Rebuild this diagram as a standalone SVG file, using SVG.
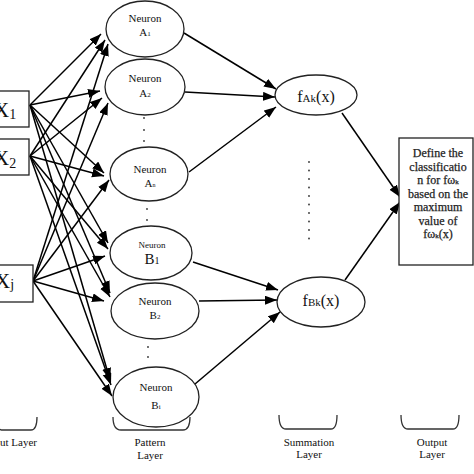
<svg xmlns="http://www.w3.org/2000/svg" width="474" height="474" viewBox="0 0 474 474">
<defs>
<marker id="ah" markerUnits="userSpaceOnUse" markerWidth="13" markerHeight="10" refX="12" refY="4.5" orient="auto">
<path d="M0,0 L12,4.5 L0,9 Z" fill="#000"/>
</marker>
</defs>
<style>
text{font-family:"Liberation Serif","Times New Roman",serif;fill:#111}
.node ellipse,.node rect{fill:#fff;stroke:#222;stroke-width:1.3}
.edge{stroke:#000;stroke-width:1.5;fill:none;marker-end:url(#ah)}
.dot{fill:#333}
.br{fill:none;stroke:#333;stroke-width:1.3}
.nl{font-size:11px;text-anchor:middle}
.lab{font-size:11px;text-anchor:middle}
.out{font-size:12px;text-anchor:middle;fill:#222;stroke:#222;stroke-width:0.25}
</style>
<rect x="0" y="0" width="474" height="474" fill="#fff"/>
<g id="connectors">
<line class="edge" x1="30" y1="105" x2="101" y2="34"/>
<line class="edge" x1="30" y1="105" x2="100" y2="91"/>
<line class="edge" x1="30" y1="105" x2="104" y2="173"/>
<line class="edge" x1="30" y1="105" x2="108" y2="243"/>
<line class="edge" x1="30" y1="105" x2="110" y2="293"/>
<line class="edge" x1="30" y1="105" x2="110" y2="380"/>
<line class="edge" x1="30" y1="156" x2="105" y2="40"/>
<line class="edge" x1="30" y1="156" x2="102" y2="98"/>
<line class="edge" x1="30" y1="156" x2="104" y2="176"/>
<line class="edge" x1="30" y1="156" x2="108" y2="249"/>
<line class="edge" x1="30" y1="156" x2="110" y2="297"/>
<line class="edge" x1="30" y1="156" x2="111" y2="385"/>
<line class="edge" x1="33" y1="281" x2="108" y2="44"/>
<line class="edge" x1="33" y1="281" x2="108" y2="103"/>
<line class="edge" x1="33" y1="281" x2="109" y2="180"/>
<line class="edge" x1="33" y1="281" x2="105" y2="256"/>
<line class="edge" x1="33" y1="281" x2="104" y2="301"/>
<line class="edge" x1="33" y1="281" x2="112" y2="396"/>
<line class="edge" x1="184" y1="33" x2="276" y2="89"/>
<line class="edge" x1="185" y1="92" x2="275" y2="97"/>
<line class="edge" x1="189" y1="172" x2="276" y2="107"/>
<line class="edge" x1="193" y1="262" x2="278" y2="290"/>
<line class="edge" x1="199" y1="301" x2="277" y2="300"/>
<line class="edge" x1="195" y1="384" x2="280" y2="312"/>
<line class="edge" x1="342" y1="113" x2="400" y2="197"/>
<line class="edge" x1="345" y1="280" x2="400" y2="202"/>
</g>
<g id="x1" class="node">
<rect x="-6" y="91" width="35" height="36"/>
<text x="-6" y="117" font-size="21">X<tspan font-size="14" dy="2">1</tspan></text>
</g>
<g id="x2" class="node">
<rect x="-6" y="139" width="35" height="36"/>
<text x="-6" y="165" font-size="21">X<tspan font-size="14" dy="3">2</tspan></text>
</g>
<g id="xj" class="node">
<rect x="-6" y="265" width="39" height="37"/>
<text x="-5" y="288" font-size="21">X<tspan font-size="14" dy="1">j</tspan></text>
</g>
<g id="a1" class="node">
<ellipse cx="145" cy="29" rx="39" ry="28"/>
<text class="nl" x="145" y="22">Neuron</text>
<text class="nl" x="145" y="36">A<tspan style="font-size:7px">1</tspan></text>
</g>
<g id="a2" class="node">
<ellipse cx="145" cy="87" rx="40" ry="28"/>
<text class="nl" x="145" y="82">Neuron</text>
<text class="nl" x="145" y="97">A<tspan style="font-size:7px">2</tspan></text>
</g>
<g id="an" class="node">
<ellipse cx="149" cy="174" rx="39" ry="27"/>
<text class="nl" x="150" y="173">Neuron</text>
<text class="nl" x="150" y="187">A<tspan style="font-size:6px">n</tspan></text>
</g>
<g id="b1" class="node">
<ellipse cx="151" cy="253" rx="41" ry="27"/>
<text class="nl" x="152" y="248" style="font-size:9px">Neuron</text>
<text class="nl" x="152" y="264" style="font-size:15px">B<tspan style="font-size:10px">1</tspan></text>
</g>
<g id="b2" class="node">
<ellipse cx="155" cy="311" rx="44" ry="28"/>
<text class="nl" x="155" y="305">Neuron</text>
<text class="nl" x="155" y="319">B<tspan style="font-size:7px">2</tspan></text>
</g>
<g id="bi" class="node">
<ellipse cx="156" cy="397" rx="43" ry="30"/>
<text class="nl" x="156" y="391">Neuron</text>
<text class="nl" x="156" y="409">B<tspan style="font-size:7px">i</tspan></text>
</g>
<g id="fak" class="node">
<ellipse cx="316" cy="95" rx="41" ry="20"/>
<text x="316" y="102" font-size="16" text-anchor="middle">f<tspan font-size="11">Ak</tspan>(x)</text>
</g>
<g id="fbk" class="node">
<ellipse cx="321" cy="302" rx="44" ry="25"/>
<text x="321" y="306" font-size="16" text-anchor="middle">f<tspan font-size="11">Bk</tspan>(x)</text>
</g>
<g id="output" class="node">
<rect x="399" y="138" width="74" height="127"/>
<text class="out" x="438" y="157">Define the</text>
<text class="out" x="438" y="170.5">classificatio</text>
<text class="out" x="438" y="184">n for fω<tspan style="font-size:7px">k</tspan></text>
<text class="out" x="438" y="197.5">based on the</text>
<text class="out" x="438" y="211">maximum</text>
<text class="out" x="438" y="224.5">value of</text>
<text class="out" x="438" y="238">fω<tspan style="font-size:7px">k</tspan>(x)</text>
</g>
<g id="dots">
<circle class="dot" cx="144" cy="118" r="0.9"/>
<circle class="dot" cx="144" cy="130" r="0.9"/>
<circle class="dot" cx="144" cy="141" r="0.9"/>
<circle class="dot" cx="147" cy="209" r="0.9"/>
<circle class="dot" cx="147" cy="220" r="0.9"/>
<circle class="dot" cx="148" cy="347" r="0.9"/>
<circle class="dot" cx="148" cy="357" r="0.9"/>
<circle class="dot" cx="309" cy="162" r="0.9"/>
<circle class="dot" cx="309" cy="170.5" r="0.9"/>
<circle class="dot" cx="309" cy="179" r="0.9"/>
<circle class="dot" cx="309" cy="187.5" r="0.9"/>
<circle class="dot" cx="309" cy="196" r="0.9"/>
<circle class="dot" cx="309" cy="204.5" r="0.9"/>
<circle class="dot" cx="309" cy="213" r="0.9"/>
<circle class="dot" cx="309" cy="221.5" r="0.9"/>
<circle class="dot" cx="309" cy="230" r="0.9"/>
<circle class="dot" cx="309" cy="238.5" r="0.9"/>
</g>
<g id="layers">
<path class="br" d="M-5,417 Q-5,430 3,430 L31,430 Q37,430 37,417"/>
<path class="br" d="M113,417 Q113,430 121,430 L183,430 Q190,430 190,417"/>
<path class="br" d="M279,415 Q279,429 286,429 L331,429 Q337,429 337,415"/>
<path class="br" d="M401,415 Q401,429 408,429 L453,429 Q459,429 459,415"/>
<text class="lab" x="0" y="446" style="text-anchor:start">ut Layer</text>
<text class="lab" x="150" y="446">Pattern</text>
<text class="lab" x="150" y="459">Layer</text>
<text class="lab" x="309" y="446">Summation</text>
<text class="lab" x="309" y="458">Layer</text>
<text class="lab" x="432" y="446">Output</text>
<text class="lab" x="432" y="458">Layer</text>
</g>
</svg>
